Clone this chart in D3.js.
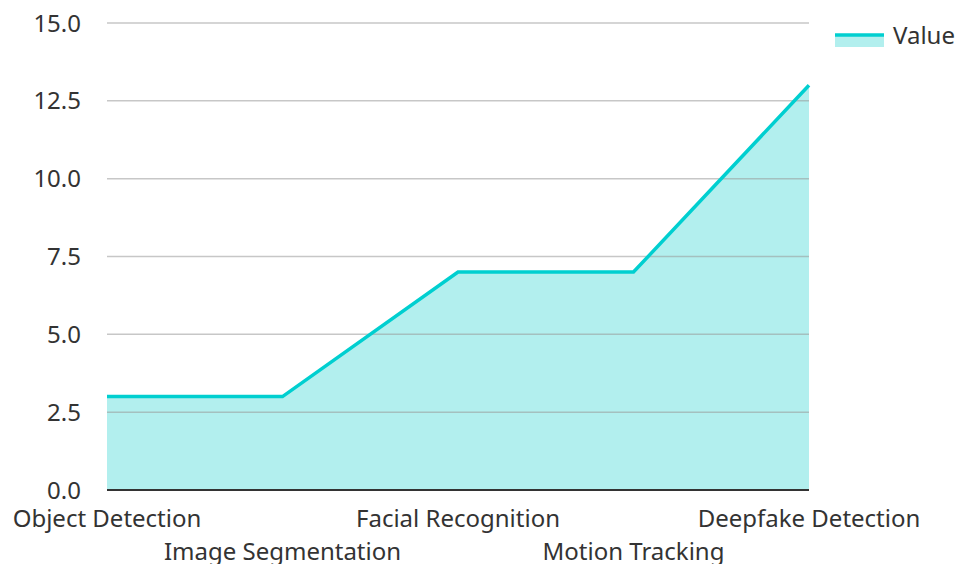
<!DOCTYPE html>
<html>
<head>
<meta charset="utf-8">
<script src="https://cdn.jsdelivr.net/npm/d3@7"></script>
<style>
  body { margin: 0; background: #fff; }
  svg text { font-family: "Noto Sans", "Open Sans", sans-serif; fill: #333; }
</style>
</head>
<body>
<svg id="chart" width="959" height="564"></svg>
<script>
const categories = ["Object Detection", "Image Segmentation", "Facial Recognition", "Motion Tracking", "Deepfake Detection"];
const values = [3, 3, 7, 7, 13];
const yTicks = [0, 2.5, 5, 7.5, 10, 12.5, 15];
const seriesName = "Value";

(function () {
const svg = d3.select("#chart");
const mLeft = 107, mRight = 809, mTop = 23, mBottom = 490;
const lineColor = "#00cfd0";
const fillColor = "#b2efee";
const fs = 24;

const x = d3.scalePoint().domain(categories).range([mLeft, mRight]);
const y = d3.scaleLinear().domain([0, 15]).range([mBottom, mTop]);

const data = categories.map((c, i) => ({ c, v: values[i] }));

// area
svg.append("path")
  .datum(data)
  .attr("fill", fillColor)
  .attr("d", d3.area().x(d => x(d.c)).y0(y(0)).y1(d => y(d.v)));

// grid
svg.append("g").selectAll("line").data(yTicks.filter(t => t > 0)).join("line")
  .attr("x1", mLeft).attr("x2", mRight)
  .attr("y1", d => y(d)).attr("y2", d => y(d))
  .attr("stroke", "#999").attr("stroke-opacity", 0.55).attr("stroke-width", 1.5);

// y labels
svg.append("g").selectAll("text").data(yTicks).join("text")
  .attr("x", 81).attr("y", d => y(d)).attr("dy", "0.36em")
  .attr("text-anchor", "end").attr("font-size", fs)
  .text(d => d3.format(".1f")(d));

// line
svg.append("path")
  .datum(data)
  .attr("fill", "none").attr("stroke", lineColor).attr("stroke-width", 3.5)
  .attr("stroke-linejoin", "miter")
  .attr("d", d3.line().x(d => x(d.c)).y(d => y(d.v)));

// x axis baseline
svg.append("line")
  .attr("x1", mLeft).attr("x2", mRight).attr("y1", mBottom).attr("y2", mBottom)
  .attr("stroke", "#333").attr("stroke-width", 2);

// x labels
svg.append("g").selectAll("text").data(categories).join("text")
  .attr("x", d => x(d))
  .attr("y", (d, i) => i % 2 === 0 ? 527 : 560)
  .attr("text-anchor", "middle").attr("font-size", fs)
  .text(d => d);

// legend
const lg = svg.append("g");
lg.append("rect").attr("x", 835).attr("y", 34).attr("width", 49).attr("height", 13).attr("fill", fillColor);
lg.append("line").attr("x1", 835).attr("x2", 884).attr("y1", 35).attr("y2", 35)
  .attr("stroke", lineColor).attr("stroke-width", 3.5);
lg.append("text").attr("x", 893).attr("y", 44).attr("font-size", fs).text(seriesName);
})();
</script>
</body>
</html>
